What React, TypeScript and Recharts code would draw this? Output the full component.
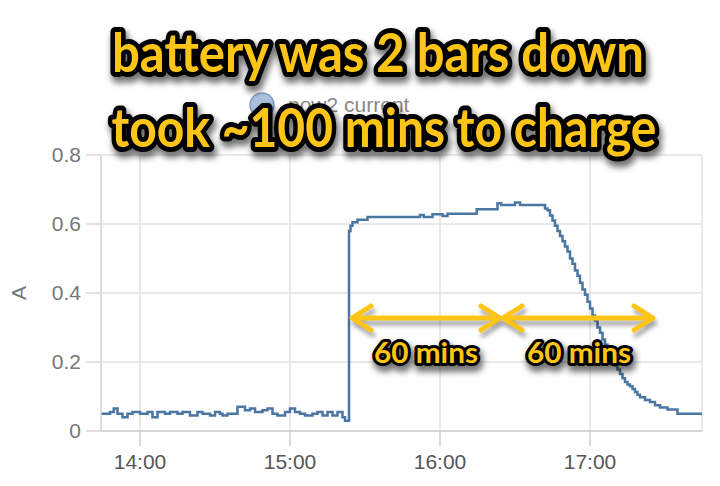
import React from 'react';
import { LineChart, Line, XAxis, YAxis, CartesianGrid } from 'recharts';

// minutes after 14:00
const minutesFrom14 = [
  -15.6, -12, -10.5, -9, -7, -5, -3, 0, 3, 5, 7, 10, 12, 15, 17, 20, 23, 25, 28, 30, 32, 33, 35, 39, 42, 44, 46, 49, 51, 53, 55, 58, 60, 62, 64, 66, 69, 71, 73, 75, 77, 79, 81, 82,
  83.6, 84.2, 85, 87, 91, 112, 113.5, 117, 121, 123, 134.7, 143, 144.5, 150, 152,
  162, 163, 164, 165, 166, 167, 168, 169, 170, 171, 172, 173, 174, 175, 176, 177, 178, 179, 180, 181, 182, 183, 184, 185, 186, 187, 188, 189, 190, 191, 192, 193, 194, 195, 196, 197, 198, 199, 200, 202, 204, 206, 208, 211, 215, 224.8,
];
const currentA = [
  0.05, 0.055, 0.065, 0.05, 0.04, 0.05, 0.055, 0.05, 0.055, 0.04, 0.055, 0.05, 0.055, 0.05, 0.055, 0.045, 0.055, 0.05, 0.045, 0.055, 0.05, 0.045, 0.05, 0.07, 0.06, 0.065, 0.055, 0.06, 0.065, 0.05, 0.045, 0.055, 0.065, 0.055, 0.05, 0.045, 0.05, 0.055, 0.045, 0.055, 0.045, 0.055, 0.04, 0.03,
  0.58, 0.595, 0.605, 0.612, 0.62, 0.626, 0.62, 0.628, 0.623, 0.63, 0.643, 0.66, 0.655, 0.662, 0.655,
  0.645, 0.64, 0.625, 0.61, 0.595, 0.58, 0.565, 0.55, 0.535, 0.52, 0.5, 0.485, 0.465, 0.45, 0.43, 0.41, 0.395, 0.375, 0.355, 0.335, 0.32, 0.3, 0.285, 0.265, 0.25, 0.235, 0.22, 0.205, 0.19, 0.178, 0.165, 0.153, 0.142, 0.135, 0.13, 0.122, 0.113, 0.105, 0.098, 0.09, 0.084, 0.075, 0.068, 0.062, 0.05, 0.05,
];
const xTicks = [840, 900, 960, 1020];
const yTicks = [0, 0.2, 0.4, 0.6, 0.8];
const seriesName = 'pow2 current';
const titleLines = ['battery was 2 bars down', 'took ~100 mins to charge'];
const spanLabels = ['60 mins', '60 mins'];

const data = minutesFrom14.map((m, i) => ({ m: 840 + m, a: currentA[i] }));

const fmtTime = (v: number) => {
  const h = Math.floor(v / 60);
  const mm = Math.round(v - h * 60);
  return `${h}:${mm.toString().padStart(2, '0')}`;
};

const YELLOW = '#FFC516';
const FONT = 'Lato, "Open Sans", sans-serif';

const Arrow = ({ x1, x2, y }: { x1: number; x2: number; y: number }) => {
  const d = `M${x1 + 19},${y - 12} L${x1},${y} L${x1 + 19},${y + 12} M${x1},${y} L${x2},${y} M${x2 - 19},${y - 12} L${x2},${y} L${x2 - 19},${y + 12}`;
  return (
    <g>
      <path d={d} transform="translate(2,5)" fill="none" stroke="#000" strokeOpacity={0.35} strokeWidth={5} strokeLinecap="round" strokeLinejoin="round" filter="url(#blur2)" />
      <path d={d} fill="none" stroke={YELLOW} strokeWidth={5} strokeLinecap="round" strokeLinejoin="round" />
    </g>
  );
};

const Outlined = ({ x, y, size, len, sw, children }: any) => (
  <g>
    <text x={x + 2} y={y + 5} textAnchor="middle" fontFamily={FONT} fontWeight={700} fontSize={size} textLength={len} lengthAdjust="spacingAndGlyphs" fill="#000" stroke="#000" strokeWidth={sw + 2} strokeLinejoin="round" opacity={0.55} filter="url(#blur4)">{children}</text>
    <text x={x} y={y} textAnchor="middle" fontFamily={FONT} fontWeight={700} fontSize={size} textLength={len} lengthAdjust="spacingAndGlyphs" fill={YELLOW} stroke="#000" strokeWidth={sw} strokeLinejoin="round" paintOrder="stroke">{children}</text>
  </g>
);

export default function App() {
  return (
    <div style={{ position: 'absolute', left: 0, top: 0, width: 720, height: 486, background: '#fff' }}>
      <LineChart width={720} height={486} data={data} margin={{ top: 155, right: 18, bottom: 0, left: 0 }}>
        <CartesianGrid stroke="#e2e2e2" strokeWidth={1.5} />
        <XAxis
          dataKey="m"
          type="number"
          domain={[824.4, 1064.8]}
          ticks={xTicks}
          tickFormatter={fmtTime}
          height={55}
          tickSize={15}
          tickMargin={8}
          stroke="#cfcfcf"
          strokeWidth={1.5}
          tick={{ fill: '#555', fontSize: 21, fontFamily: 'Liberation Sans, Arial, sans-serif', fontWeight: 500 }}
        />
        <YAxis
          domain={[0, 0.8]}
          ticks={yTicks}
          width={101}
          tickSize={15}
          tickMargin={5}
          stroke="#d8d8d8"
          strokeWidth={1.5}
          tickFormatter={(v: number) => (v === 0 ? '0' : String(v))}
          tick={{ fill: '#777', fontSize: 21, fontFamily: 'Liberation Sans, Arial, sans-serif' }}
          label={{
            content: (p: any) => {
              const vb = p.viewBox || { x: 0, y: 155, height: 276 };
              const cx = vb.x + 18;
              const cy = vb.y + vb.height / 2;
              return (
                <text x={cx} y={cy} transform={`rotate(-90 ${cx} ${cy})`} textAnchor="middle" dominantBaseline="central" fill="#777" fontSize={21} fontFamily="Liberation Sans, Arial, sans-serif">A</text>
              );
            },
          }}
        />
        <Line type="stepAfter" dataKey="a" name={seriesName} stroke="#4a76a2" strokeWidth={2.5} dot={false} isAnimationActive={false} />
      </LineChart>
      <svg width={720} height={486} style={{ position: 'absolute', left: 0, top: 0, pointerEvents: 'none' }}>
        <defs>
          <filter id="blur2" x="-10%" y="-50%" width="120%" height="200%"><feGaussianBlur stdDeviation="2" /></filter>
          <filter id="blur4" x="-10%" y="-50%" width="120%" height="200%"><feGaussianBlur stdDeviation="3" /></filter>
        </defs>
        <g>
          <circle cx={262} cy={105} r={12} fill="#a9c1de" stroke="#7d9cc4" strokeWidth={1.5} />
          <text x={288} y={112} fontSize={21} fill="#888" fontFamily="Liberation Sans, Arial, sans-serif">{seriesName}</text>
        </g>
        <Outlined x={378} y={72} size={54} len={532} sw={10}>{titleLines[0]}</Outlined>
        <Outlined x={384} y={147} size={54} len={545} sw={10}>{titleLines[1]}</Outlined>
        <Arrow x1={352} x2={500} y={318} />
        <Arrow x1={503} x2={653} y={318} />
        <Outlined x={426} y={363} size={29} len={104} sw={6}>{spanLabels[0]}</Outlined>
        <Outlined x={579} y={363} size={29} len={104} sw={6}>{spanLabels[1]}</Outlined>
      </svg>
    </div>
  );
}
